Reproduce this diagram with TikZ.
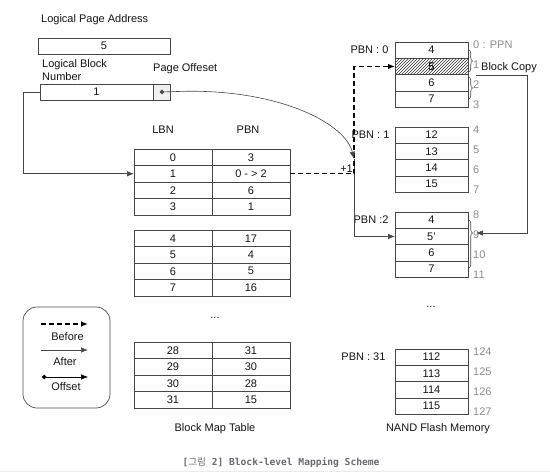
\documentclass[tikz,border=0pt]{standalone}
\usepackage{fontspec}
\setmainfont{Liberation Sans}
\newfontfamily\krfont{Noto Sans CJK KR}
\newfontfamily\capfont{DejaVu Sans Mono}
\usetikzlibrary{arrows.meta,positioning,calc,patterns,decorations.pathreplacing}
\definecolor{linegray}{RGB}{70,70,70}
\definecolor{numgray}{RGB}{140,140,140}
\definecolor{capgray}{RGB}{105,105,115}

\begin{document}
\begin{tikzpicture}[x=1pt, y=-1pt, font=\fontsize{11}{13}\selectfont, text=black!92,
  cell/.style={draw=linegray, line width=0.7pt, minimum width=78pt, minimum height=16.5pt, inner sep=0pt, outer sep=0pt, anchor=north west},
  page/.style={draw=linegray, line width=0.7pt, minimum width=73pt, minimum height=16.3pt, inner sep=0pt, outer sep=0pt, anchor=north west},
  ppn/.style={text=numgray, anchor=west, inner sep=0pt},
  before/.style={-{Latex[length=7pt,width=5.5pt]}, line width=1.2pt, dash pattern=on 5pt off 3pt},
  after/.style={-{Latex[length=7pt,width=5.5pt]}, draw=linegray, line width=0.7pt},
  offs/.style={{Circle[length=4.5pt]}-{Latex[length=7pt,width=5.5pt]}, draw=linegray, line width=0.6pt},
  pbrace/.style={decorate, draw=linegray, line width=0.6pt, decoration={brace, amplitude=3.5pt}}]
 \useasboundingbox (0,0) rectangle (550,473);

 % Logical page address
 \node[anchor=west, inner sep=0pt] (lpa) at (41,20) {Logical Page Address};
 \node[draw=linegray, line width=0.7pt, minimum width=132pt, minimum height=16pt, inner sep=0pt] (lpabox) at (104,46) {5};
 \node[anchor=west, align=left, inner sep=0pt] (lbnlabel) at (42,70.5) {Logical Block\\Number};
 \node[anchor=west, inner sep=0pt] (offlabel) at (153,69) {Page Offeset};
 \node[draw=linegray, line width=0.7pt, minimum width=113pt, minimum height=16pt, inner sep=0pt] (lbnbox) at (96.5,92) {1};
 \node[draw=linegray, line width=0.7pt, fill=black!6, minimum width=17pt, minimum height=16pt, inner sep=0pt, right=0pt of lbnbox] (offbox) {};
 \coordinate (dot) at ($(offbox.center)+(-2.5,0)$);

 % Block map table
 \node (lbnhead) at (163,130) {LBN};
 \node (pbnhead) at (248,130) {PBN};
 \foreach \top/\cells in {149/{0/3,1/0 - > 2,2/6,3/1}, 230/{4/17,5/4,6/5,7/16}, 342/{28/31,29/30,30/28,31/15}}
  \foreach \lbn/\pbn [count=\row from 0] in \cells {
   \node[cell] (lbn\lbn) at (134,\top+16.5*\row) {\lbn};
   \node[cell, right=0pt of lbn\lbn] (pbn\lbn) {\pbn};
  }
 \node (mapdots) at (215,318) {...};
 \node (maptitle) at (215,429) {Block Map Table};

 % NAND flash blocks
 \foreach \blk/\top/\cells in {0/42/{4,5,6,7}, 1/127/{12,13,14,15}, 2/212/{4,5',6,7}, 31/349/{112,113,114,115}}
  \foreach \v [count=\row from 0] in \cells
   \node[page] (b\blk-\row) at (395,\top+16.3*\row) {\v};
 \fill[pattern=north east lines, pattern color=black!80] (b0-1.north west) rectangle (b0-1.south east);
 \draw[linegray, line width=0.7pt] (b0-1.north west) rectangle (b0-1.south east);
 \node (hatched) at (b0-1) {5};
 \node[left=3pt of b0-0] (pbn0lab) {PBN : 0};
 \node[left=2pt of b1-0] (pbn1lab) {PBN : 1};
 \node[left=3pt of b2-0] (pbn2lab) {PBN :2};
 \node[left=6pt of b31-0] (pbn31lab) {PBN : 31};
 \node (flashdots) at (431,307) {...};
 \node (flashtitle) at (438,429) {NAND Flash Memory};

 % physical page numbers
 \foreach \blk/\top/\first in {0/42/0, 1/127/4, 2/212/8, 31/349/124}
  \foreach \row in {0,...,3} {
   \pgfmathtruncatemacro\num{\first+\row}
   \node[ppn] (ppn\blk-\row) at (473,\top+3+20*\row) {\num};
  }
 \node[ppn, right=3pt of ppn0-0] (ppnlab) {: PPN};
 \node[anchor=west, inner sep=0pt] (copylab) at (481,67.5) {Block Copy};
 \draw[pbrace] (469,50) -- (469,72);
 \draw[pbrace] (469,77) -- (469,99);
 \draw[pbrace, decoration={aspect=0.27}] (469,220) -- (469,268);

 % connectors
 \coordinate (turn) at (23,92);
 \draw[after] (lbnbox.west) -- (turn) |- (lbn1.west);
 \coordinate (plusone) at ($(pbn1.east)+(64,0)$);
 \coordinate (hit) at ($(plusone)+(0,-15)$);
 \draw[after] (hit) |- (b2-1.west);
 \draw[before] (pbn1.east) -- (plusone) |- (b0-1.west);
 \draw[offs] (dot) -- (178,91.5) .. controls (275,88) and (345,122) .. (hit);
 \node[anchor=south east, inner sep=1pt] (inc) at (plusone) {+1};
 \coordinate (copyfrom) at (476,75);
 \coordinate (copyturn) at (527,75);
 \coordinate (copyto) at (476,233);
 \draw[after] (copyfrom) -- (copyturn) |- (copyto);

 % legend
 \node[draw=black!70, line width=0.7pt, rounded corners=14pt, minimum width=87pt, minimum height=101pt] (legend) at (66.5,357.5) {};
 \coordinate (lg1a) at (41,324); \coordinate (lg1b) at (88,324);
 \coordinate (lg2a) at (41,350); \coordinate (lg2b) at (88,350);
 \coordinate (lg3a) at (42,377); \coordinate (lg3b) at (88,377);
 \draw[before] (lg1a) -- (lg1b);
 \draw[after] (lg2a) -- (lg2b);
 \draw[offs, draw=black] (lg3a) -- (lg3b);
 \node (lgbefore) at (67.5,337) {Before};
 \node (lgafter) at (65,362) {After};
 \node (lgoffset) at (66,387) {Offset};

 % caption
 \node[text=capgray, font=\fontsize{9.6}{11}\selectfont] (caption) at (281,463)
   {{\capfont\bfseries [}{\krfont 그림}{\capfont\bfseries\ 2] Block-level Mapping Scheme}};
 \draw[black!8] (0,471.5) -- (550,471.5);
\end{tikzpicture}
\end{document}
